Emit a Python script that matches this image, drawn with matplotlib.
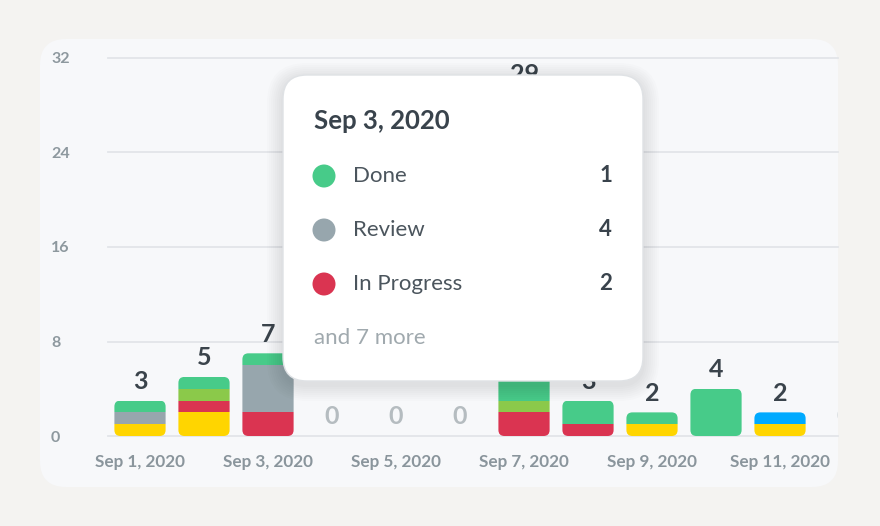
import numpy as np
import matplotlib
matplotlib.use("Agg")
import matplotlib.pyplot as plt
from matplotlib.patches import FancyBboxPatch, Circle

plt.rcParams['font.family'] = ['Lato', 'DejaVu Sans']

# data
dates = ['Sep 1, 2020', 'Sep 2, 2020', 'Sep 3, 2020', 'Sep 4, 2020', 'Sep 5, 2020', 'Sep 6, 2020',
         'Sep 7, 2020', 'Sep 8, 2020', 'Sep 9, 2020', 'Sep 10, 2020', 'Sep 11, 2020', 'Sep 12, 2020']
todo        = [1, 2, 0, 0, 0, 0, 0, 0, 1, 0, 1, 0]
in_progress = [0, 1, 2, 0, 0, 0, 2, 1, 0, 0, 0, 0]
review      = [1, 0, 4, 0, 0, 0, 0, 0, 0, 0, 0, 0]
testing     = [0, 1, 0, 0, 0, 0, 1, 0, 0, 0, 0, 0]
blocked     = [0, 0, 0, 0, 0, 0, 0, 0, 0, 0, 1, 0]
done        = [1, 1, 1, 0, 0, 0, 26, 2, 1, 4, 0, 0]
y_ticks = [0, 8, 16, 24, 32]

series = [('To Do', todo, '#ffd500'),
          ('In Progress', in_progress, '#da3451'),
          ('Review', review, '#97a6ad'),
          ('Testing', testing, '#8bc94a'),
          ('Blocked', blocked, '#00aaff'),
          ('Done', done, '#47cb89')]

hover_idx = 2
tooltip_rows = [('Done', done, '#47cb89'), ('Review', review, '#97a6ad'), ('In Progress', in_progress, '#da3451')]
more_text = 'and 7 more'

W, H = 880, 526
fig = plt.figure(figsize=(W / 100, H / 100), dpi=100)
fig.patch.set_facecolor('#f4f3f1')

# card background
bg = fig.add_axes([0, 0, 1, 1], zorder=0)
bg.set_xlim(0, W)
bg.set_ylim(H, 0)
bg.axis('off')
bg.add_patch(FancyBboxPatch((40, 39), 798, 448, boxstyle='round,pad=0,rounding_size=26',
                            fc='#f7f8fa', ec='none'))

# main chart
ax_l, ax_r, ax_t, ax_b = 108, 838, 58, 436
ax = fig.add_axes([ax_l / W, 1 - ax_b / H, (ax_r - ax_l) / W, (ax_b - ax_t) / H], zorder=1)
ax.set_facecolor('none')
x = np.arange(len(dates))
xmin, xmax = -0.5, 10.906
ax.set_xlim(xmin, xmax)
ax.set_ylim(0, 32)
for s in ax.spines.values():
    s.set_visible(False)

ax.set_yticks(y_ticks)
ax.set_yticklabels([str(t) for t in y_ticks])
ax.tick_params(axis='y', length=0, pad=41, labelsize=11.5, labelcolor='#8d989e')
for lbl in ax.get_yticklabels():
    lbl.set_ha('left')
    lbl.set_fontweight('bold')
ax.set_xticks(x[::2])
ax.set_xticklabels(dates[::2])
ax.tick_params(axis='x', length=0, pad=13, labelsize=12.3, labelcolor='#8a959c')
for lbl in ax.get_xticklabels():
    lbl.set_fontweight('bold')
ax.grid(axis='y', color='#e2e5e9', lw=1.3)
ax.set_axisbelow(True)
for gl in ax.get_ygridlines():
    gl.set_clip_on(False)

# rounded clip shapes for each stacked bar
bw = 0.8
px_x = (xmax - xmin) / (ax_r - ax_l)
px_y = 32 / (ax_b - ax_t)
aspect = px_y / px_x
totals = np.sum([s[1] for s in series], axis=0)
clips = []
for i, t in enumerate(totals):
    p = FancyBboxPatch((x[i] - bw / 2, 0), bw, max(t, 0.001),
                       boxstyle='round,pad=0,rounding_size=%f' % (6 * px_x),
                       mutation_aspect=aspect, transform=ax.transData, fc='none', ec='none')
    clips.append(p)

bottom = np.zeros(len(dates))
for name, vals, col in series:
    bars = ax.bar(x, vals, bw, bottom=bottom, color=col, lw=0)
    for i, b in enumerate(bars):
        b.set_clip_path(clips[i])
    bottom += np.array(vals)

for i, t in enumerate(totals):
    col = '#3a434b' if t > 0 else '#b5bcc0'
    ax.annotate(str(t), (x[i], t), xytext=(0, 8.5), textcoords='offset points',
                ha='center', va='baseline', fontsize=18, fontweight='bold', color=col,
                annotation_clip=False, clip_on=True)

# tooltip overlay
ov = fig.add_axes([0, 0, 1, 1], zorder=2)
ov.set_xlim(0, W)
ov.set_ylim(H, 0)
ov.axis('off')
tx, ty, tw, th = 283, 75, 360, 306
for k in range(8):
    g = 2 + k * 2
    ov.add_patch(FancyBboxPatch((tx - g, ty - g + 4), tw + 2 * g, th + 2 * g,
                                boxstyle='round,pad=0,rounding_size=%d' % (24 + g),
                                fc='black', ec='none', alpha=0.012))
ov.add_patch(FancyBboxPatch((tx, ty), tw, th, boxstyle='round,pad=0,rounding_size=24',
                            fc='white', ec='#dfe2e5', lw=1))
ov.text(314, 121, dates[hover_idx], fontsize=18.5, fontweight='bold', color='#39434c',
        ha='left', va='center')
for r, (name, vals, col) in enumerate(tooltip_rows):
    yy = 176 + r * 54
    ov.add_patch(Circle((324, yy), 11.5, fc=col, ec='none'))
    ov.text(353, yy, name, fontsize=16, color='#4b555d', ha='left', va='center')
    ov.text(612, yy, str(vals[hover_idx]), fontsize=16, fontweight='bold', color='#39434c',
            ha='right', va='center')
ov.text(314, 338, more_text, fontsize=16, color='#a0a9ae', ha='left', va='center')

fig.savefig('out.png', dpi=100, facecolor=fig.get_facecolor())
